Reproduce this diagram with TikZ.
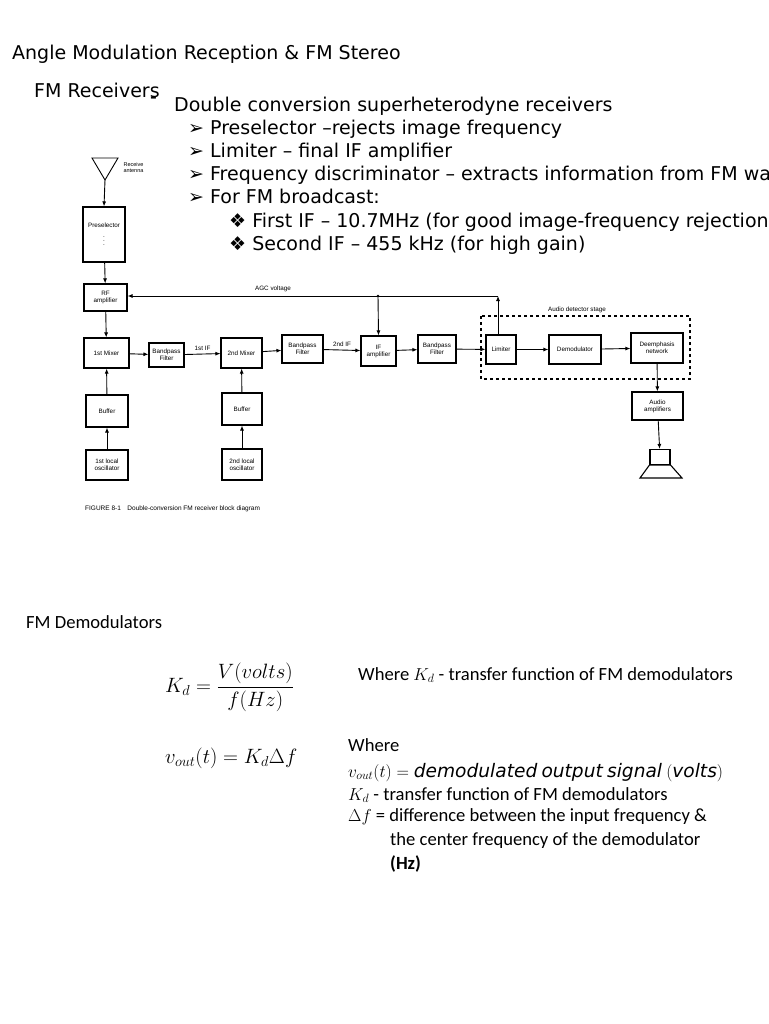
\documentclass[tikz,border=0pt]{standalone}
\usepackage{fontspec}
\setmainfont{DejaVu Sans}
\newfontfamily\carl{Carlito}
\newfontfamily\lib{Liberation Sans}
\usetikzlibrary{arrows.meta}
\begin{document}
\begin{tikzpicture}[x=1pt,y=-1pt,
  blk/.style={draw,line width=1.1pt,fill=white,align=center,inner sep=1pt,font=\lib\fontsize{6.3}{7}\selectfont},
  arr/.style={-{Latex[length=5pt,width=4pt]},line width=0.9pt},
  lbl/.style={font=\lib\fontsize{6.3}{7}\selectfont},
  top/.style={anchor=base west,inner sep=0pt,font=\fontsize{19}{21}\selectfont},
  bot/.style={anchor=base west,inner sep=0pt,font=\carl\fontsize{18.6}{21}\selectfont}]
\useasboundingbox (0,0) rectangle (768,1024);
\fill[white] (0,0) rectangle (768,1024);
\begin{scope}
\clip (0,0) rectangle (768,1024);
\node[top] (t1) at (12,60) {Angle Modulation Reception \& FM Stereo};
\node[top] (t2) at (34,98) {FM Receivers};
\node[top] (t3) at (150,104) {-};
\node[top] (t4) at (174,112) {Double conversion superheterodyne receivers};
\node[top] (b1) at (188,135) {➢ Preselector –rejects image frequency};
\node[top] (b2) at (188,158) {➢ Limiter – final IF amplifier};
\node[top] (b3) at (188,181) {➢ Frequency discriminator – extracts information from FM wave};
\node[top] (b4) at (188,204) {➢ For FM broadcast:};
\node[top] (c1) at (229,227) {❖ First IF – 10.7MHz (for good image-frequency rejection)};
\node[top] (c2) at (229,250) {❖ Second IF – 455 kHz (for high gain)};
\end{scope}

% dashed box
\draw[dashed,line width=1.1pt] (481,316) rectangle (690,379);
\node[lbl] (ads) at (577,310) {Audio detector stage};

% antenna
\draw[line width=0.9pt] (92,158) -- (118,158) -- (105,180) -- cycle;
\node[font=\lib\fontsize{5.5}{6}\selectfont,align=left,anchor=west] (ant) at (120,168) {Receive\\antenna};
\coordinate (antb) at (105,180);

\node[blk,minimum width=42pt,minimum height=55pt] (presel) at (104,234.5) {Preselector\\[2pt]$\vdots$};
\node[blk,minimum width=43pt,minimum height=27pt] (rfamp) at (105.5,297.5) {RF\\amplifier};
\node[blk,minimum width=45pt,minimum height=30pt] (mix1) at (106.5,353) {1st Mixer};
\node[blk,minimum width=35pt,minimum height=24pt] (bpf1) at (166.5,355) {Bandpass\\Filter};
\node[blk,minimum width=41pt,minimum height=30pt] (mix2) at (241.5,353) {2nd Mixer};
\node[blk,minimum width=41pt,minimum height=28pt] (bpf2) at (302.5,349) {Bandpass\\Filter};
\node[blk,minimum width=35pt,minimum height=30pt] (ifamp) at (378.5,351) {IF\\amplifier};
\node[blk,minimum width=38pt,minimum height=28pt] (bpf3) at (437,349) {Bandpass\\Filter};
\node[blk,minimum width=30pt,minimum height=29pt] (lim) at (501,349.5) {Limiter};
\node[blk,minimum width=52pt,minimum height=29pt] (demod) at (575,349.5) {Demodulator};
\node[blk,minimum width=52pt,minimum height=30pt] (deemph) at (657,348) {Deemphasis\\network};
\node[blk,minimum width=51pt,minimum height=28pt] (audio) at (657.5,406) {Audio\\amplifiers};
\node[blk,minimum width=42pt,minimum height=32pt] (buf1) at (107,411) {Buffer};
\node[blk,minimum width=40pt,minimum height=32pt] (buf2) at (242,409) {Buffer};
\node[blk,minimum width=42pt,minimum height=30pt] (osc1) at (107,465) {1st local\\oscillator};
\node[blk,minimum width=40pt,minimum height=31pt] (osc2) at (242,464.5) {2nd local\\oscillator};

% speaker
\node[draw,line width=1.1pt,minimum width=20pt,minimum height=15pt,inner sep=0pt] (spk) at (660,457) {};
\draw[line width=1.1pt] (spk.south west) -- (640,478) -- (682,478) -- (spk.south east) -- cycle;

\draw[arr] (antb) -- (presel.north);
\draw[arr] (presel) -- (rfamp);
\draw[arr] (rfamp) -- (mix1);
\draw[arr] (mix1) -- (bpf1);
\draw[arr] (bpf1) -- node[above,lbl] {1st IF} (mix2);
\draw[arr] (mix2) -- (bpf2);
\draw[arr] (bpf2) -- node[above,lbl] {2nd IF} (ifamp);
\draw[arr] (ifamp) -- (bpf3);
\draw[arr] (bpf3) -- (lim);
\draw[arr] (lim) -- (demod);
\draw[arr] (demod) -- (deemph);
\draw[arr] (deemph) -- (audio);
\draw[arr] (audio) -- (spk);
\draw[arr] (osc1) -- (buf1);
\draw[arr] (buf1) -- (mix1);
\draw[arr] (osc2) -- (buf2);
\draw[arr] (buf2) -- (mix2);
% AGC
\coordinate (agc) at (498,296);
\coordinate (jn) at (378,296);
\draw[arr] (lim.north -| agc) -- (agc);
\draw[arr] (agc) -- (rfamp.east |- agc);
\fill (jn) circle (1.3pt);
\draw[arr] (jn) -- (ifamp.north);
\node[lbl] (agcl) at (273,289) {AGC voltage};

\node[anchor=base west,inner sep=0pt,font=\lib\fontsize{6.5}{7}\selectfont] (cap) at (85,510) {FIGURE 8-1\quad Double-conversion FM receiver block diagram};

% bottom
\node[bot] (d0) at (26,628) {FM Demodulators};
\node[anchor=west,inner sep=0pt,font=\fontsize{19.5}{22}\selectfont] (f1) at (165,687) {$K_d=\displaystyle\frac{V(volts)}{f(Hz)}$};
\node[bot] (w1) at (358,680) {Where $K_d$ - transfer function of FM demodulators};
\node[anchor=west,inner sep=0pt,font=\fontsize{19.5}{22}\selectfont] (f2) at (165,758) {$v_{out}(t)=K_d\Delta f$};
\node[bot] (w2) at (348,751) {Where};
\node[bot] (w3) at (348,777) {$v_{out}(t)=\mathit{demodulated\ output\ signal\ (volts)}$};
\node[bot] (w4) at (348,800) {$K_d$ - transfer function of FM demodulators};
\node[bot] (w5) at (348,821) {$\Delta f$ = difference between the input frequency \&};
\node[bot] (w6) at (390,845) {the center frequency of the demodulator};
\node[bot] (w7) at (390,869) {\textbf{(Hz)}};
\end{tikzpicture}
\end{document}
